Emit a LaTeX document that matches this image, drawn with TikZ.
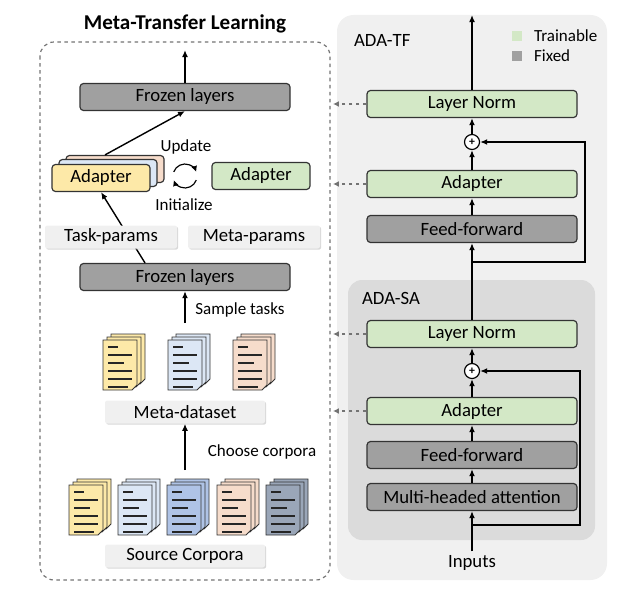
\documentclass[tikz,border=0pt]{standalone}
\usepackage{fontspec}
\setmainfont{Carlito}
\usetikzlibrary{arrows.meta,shadows}
\definecolor{gr}{HTML}{D3E8C6}
\definecolor{fx}{HTML}{A0A0A0}
\definecolor{yel}{HTML}{FDE9A8}
\definecolor{blu}{HTML}{DCE7F5}
\definecolor{ora}{HTML}{F6DCCB}
\definecolor{dbl}{HTML}{AFC3E6}
\definecolor{sla}{HTML}{9AA6B8}
\tikzset{
 mybox/.style={draw=black!80,line width=1pt,rounded corners=3pt,minimum height=27*0.03cm,inner sep=0pt,font=\fontsize{16}{18}\selectfont},
 frozen/.style={mybox,fill=fx},
 train/.style={mybox,fill=gr},
 lbl/.style={fill=black!6,rounded corners=2pt,minimum height=23*0.03cm,inner sep=0pt,font=\fontsize{16}{18}\selectfont,drop shadow={shadow xshift=1pt,shadow yshift=-1pt,fill=black!30}},
 arr/.style={-{Latex[length=6pt,width=5pt]},line width=1.2pt},
 dsharr/.style={-{Latex[length=5pt,width=5pt]},draw=black!55,dashed,line width=1pt},
 txt/.style={font=\fontsize{14.5}{16}\selectfont},
 pics/page/.style={code={
  \draw[fill=#1,draw=black!80,line width=0.8pt] (-17,-25)--(-17,25)--(12,25)--(17,20)--(17,-25)--cycle;
 }},
 pics/doc/.style={code={
  \pic at (8,-6) {page=#1};
  \pic at (4,-3) {page=#1};
  \pic at (0,0) {page=#1};
  \foreach \yy/\w in {-18/10,-10/24,-2/16,6/24,14/24,22/20}
   \draw[line width=1.5pt,black!85] (-12,\yy)--(-12+\w,\yy);
 }}
}
\begin{document}
\begin{tikzpicture}[x=0.03cm,y=-0.03cm]
\useasboundingbox (0,0) rectangle (624,593);
% left panel
\node[font=\bfseries\fontsize{18}{20}\selectfont] (title) at (185,24) {Meta-Transfer Learning};
\draw[dashed,black!55,line width=1pt,rounded corners=12pt] (40,42) rectangle (330,580);
\node[frozen,minimum width=210*0.03cm] (fz1) at (185,97) {Frozen layers};
\coordinate (top1) at (185,50);
\draw[arr] (fz1) -- (top1);
\node[mybox,fill=ora,minimum width=98*0.03cm] (ad3) at (115,169) {};
\node[mybox,fill=blu,minimum width=98*0.03cm] (ad2) at (108,173) {};
\node[mybox,fill=yel,minimum width=98*0.03cm] (ad1) at (101,178) {Adapter};
\node[train,minimum width=98*0.03cm] (adg) at (261,176) {Adapter};
\node[txt] (upd) at (186,147) {Update};
\node[txt] (ini) at (184,205) {Initialize};
\coordinate (ref) at (185,176);
\draw[line width=1pt,-{Latex[length=5pt,width=5pt]}] (ref) ++(20:12) arc (20:160:12);
\draw[line width=1pt,-{Latex[length=5pt,width=5pt]}] (ref) ++(200:12) arc (200:340:12);
\draw[arr] (ad3.north) ++(-10,0) coordinate (a3) -- (fz1.south);
\node[frozen,minimum width=210*0.03cm] (fz2) at (185,277) {Frozen layers};
\draw[arr] (fz2.north) ++(-40,0) coordinate (f2) -- (ad1.south);
\node[lbl,minimum width=132*0.03cm] (tp) at (111,237) {Task-params};
\node[lbl,minimum width=132*0.03cm] (mp) at (254,237) {Meta-params};
\coordinate (md) at (185,323);
\draw[arr] (md) -- (fz2);
\node[txt] (st) at (240,310) {Sample tasks};
\pic at (120,365) {doc=yel};
\pic at (185,365) {doc=blu};
\pic at (250,365) {doc=ora};
\node[lbl,minimum width=160*0.03cm] (mds) at (185,412) {Meta-dataset};
\coordinate (cc) at (185,470);
\draw[arr] (cc) -- (mds);
\node[txt] (cco) at (262,452) {Choose corpora};
\pic at (86,510) {doc=yel};
\pic at (135,510) {doc=blu};
\pic at (184,510) {doc=dbl};
\pic at (234,510) {doc=ora};
\pic at (283,510) {doc=sla};
\node[lbl,minimum width=160*0.03cm] (sc) at (185,556) {Source Corpora};
% right panel
\fill[black!6,rounded corners=14pt] (337,15) rectangle (607,580);
\fill[black!14,rounded corners=12pt] (348,280) rectangle (595,540);
\node[font=\fontsize{16}{18}\selectfont,anchor=west] (tf) at (350,40) {ADA-TF};
\node[font=\fontsize{16}{18}\selectfont,anchor=west] (sa) at (358,298) {ADA-SA};
\node[fill=gr,minimum size=10*0.03cm,inner sep=0pt] (lg1) at (517,36) {};
\node[fill=fx,minimum size=10*0.03cm,inner sep=0pt] (lg2) at (517,56) {};
\node[txt,anchor=west] at (530,36) {Trainable};
\node[txt,anchor=west] at (530,56) {Fixed};
\node[train,minimum width=210*0.03cm] (ln1) at (472,104) {Layer Norm};
\node[draw,circle,fill=white,line width=1pt,minimum size=15*0.03cm,inner sep=0pt,font=\bfseries\fontsize{10}{10}\selectfont] (p1) at (472,142) {+};
\node[train,minimum width=210*0.03cm] (ad4) at (472,184) {Adapter};
\node[frozen,minimum width=210*0.03cm] (ff1) at (472,229) {Feed-forward};
\node[train,minimum width=210*0.03cm] (ln2) at (472,334) {Layer Norm};
\node[draw,circle,fill=white,line width=1pt,minimum size=15*0.03cm,inner sep=0pt,font=\bfseries\fontsize{10}{10}\selectfont] (p2) at (472,371) {+};
\node[train,minimum width=210*0.03cm] (ad5) at (472,411) {Adapter};
\node[frozen,minimum width=210*0.03cm] (ff2) at (472,455) {Feed-forward};
\node[frozen,minimum width=210*0.03cm] (mha) at (472,497) {Multi-headed attention};
\node[font=\fontsize{16}{18}\selectfont] (inp) at (472,563) {Inputs};
\coordinate (out) at (472,15);
\draw[arr] (ln1) -- (out);
\draw[arr] (p1) -- (ln1);
\draw[arr] (ad4) -- (p1);
\draw[arr] (ff1) -- (ad4);
\draw[arr] (ln2) -- (ff1);
\draw[arr] (p2) -- (ln2);
\draw[arr] (ad5) -- (p2);
\draw[arr] (ff2) -- (ad5);
\draw[arr] (mha) -- (ff2);
\draw[arr] (inp) -- (mha);
\draw[arr] (472,262) -- (585,262) -- (585,142) -- (p1);
\draw[arr] (472,525) -- (580,525) -- (580,371) -- (p2);
\coordinate (d1) at (333,104);\coordinate (d2) at (333,184);
\coordinate (d3) at (333,334);\coordinate (d4) at (333,411);
\draw[dsharr] (ln1) -- (d1);
\draw[dsharr] (ad4) -- (d2);
\draw[dsharr] (ln2) -- (d3);
\draw[dsharr] (ad5) -- (d4);
\end{tikzpicture}
\end{document}
